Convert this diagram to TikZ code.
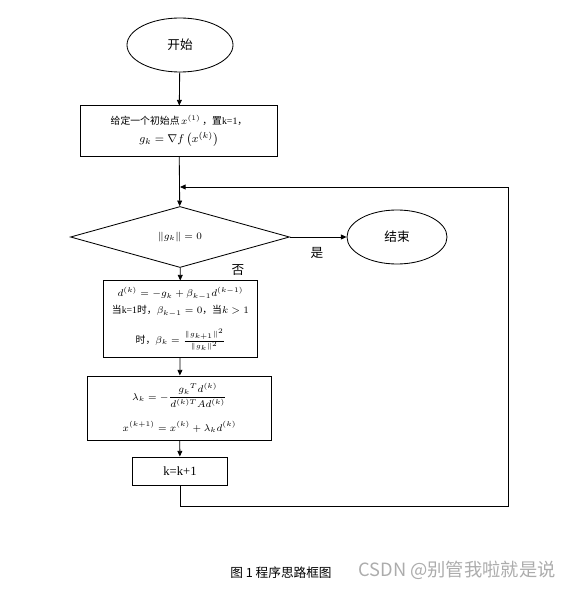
\documentclass[tikz,border=0pt]{standalone}
\usepackage{amsmath}
\usepackage{fontspec}
\setmainfont{Liberation Serif}
\newfontfamily\cjk{Noto Sans CJK SC}
\usetikzlibrary{shapes.geometric,arrows.meta}

\begin{document}
\begin{tikzpicture}[x=0.025cm, y=-0.025cm]
    \tikzstyle{every node}=[align=center, font=\fontsize{7}{9}\selectfont]
    \tikzstyle{box}=[draw, line width=0.7pt, rectangle, inner sep=0pt]
    \tikzstyle{oval}=[draw, line width=0.6pt, ellipse, inner sep=0pt, minimum width=2.65cm, minimum height=1.35cm, font=\cjk\fontsize{9}{11}\selectfont]
    \tikzstyle{tag}=[font=\cjk\fontsize{9}{11}\selectfont]
    \tikzstyle{arr}=[-{Triangle[length=4pt,width=3.5pt]}, line width=0.6pt]
    \useasboundingbox (0,0) rectangle (577,590);
    \node[oval] (start) at (180,45) {开始};
    \node[box, minimum width=4.9cm, minimum height=1.25cm] (init) at (179,131)
        {{\cjk 给定一个初始点}\,$x^{(1)}$\,{\cjk ，置}k=1{\cjk ，}\\[4pt]
         \fontsize{8.5}{10}\selectfont $g_k=\nabla f\left(x^{(k)}\right)$};
    \node[diamond, draw, line width=0.6pt, aspect=3.6, inner sep=0pt, minimum width=5.475cm, minimum height=1.525cm] (test) at (180,237) {$\|g_k\|=0$};
    \node[oval, minimum width=2.5cm] (stop) at (397,237) {结束};
    \node[tag] (yes) at (317,253) {是};
    \node[tag] (no) at (238,270) {否};
    \node[box, minimum width=3.825cm, minimum height=1.9cm] (dir) at (180.5,319)
        {$d^{(k)}=-g_k+\beta_{k-1}d^{(k-1)}$\\[3pt]
         {\cjk 当}k=1{\cjk 时，}$\beta_{k-1}=0${\cjk ，当}$k>1$\\[8pt]
         {\cjk 时，}$\beta_k=\frac{\|g_{k+1}\|^2}{\|g_k\|^2}$};
    \node[box, minimum width=4.575cm, minimum height=1.6cm] (lam) at (179.5,408)
        {$\lambda_k=-\dfrac{g_k{}^{T}d^{(k)}}{d^{(k)T}Ad^{(k)}}$\\[9pt]
         $x^{(k+1)}=x^{(k)}+\lambda_k d^{(k)}$};
    \node[box, minimum width=2.35cm, minimum height=0.7cm, font=\fontsize{9}{11}\selectfont] (inc) at (180,471) {k=k+1};
    \coordinate (merge) at (180,187);
    \coordinate (corner) at (508,506);
    \draw[arr] (start) -- (init);
    \draw[arr] (init) -- (test);
    \draw[arr] (test) -- (stop);
    \draw[arr] (test) -- (dir);
    \draw[arr] (dir) -- (lam);
    \draw[arr] (lam) -- (inc);
    \draw[arr] (inc) |- (corner) |- (merge);
    \node[font=\cjk\fontsize{9}{11}\selectfont] (cap) at (281,573) {图 1 程序思路框图};
    \node[text=gray!65, font=\cjk\fontsize{13}{15}\selectfont] (mark) at (457,570) {CSDN @别管我啦就是说};
\end{tikzpicture}
\end{document}
